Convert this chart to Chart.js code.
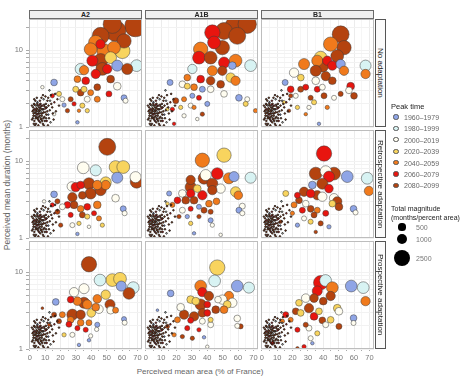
<!DOCTYPE html>
<html lang="en">
<head>
<meta charset="UTF-8">
<title>Perceived drought events by peak time</title>
<script src="https://cdn.jsdelivr.net/npm/chart.js@4.4.1/dist/chart.umd.min.js"></script>
<style>
    body { margin: 0; width: 474px; height: 378px; background: #fff; position: relative; overflow: hidden;
           font-family: "Liberation Sans", Arial, sans-serif; }
    canvas { position: absolute; }
    .stripTop { position: absolute; top: 10px; height: 9px; box-sizing: border-box; border: 1px solid #6a6a6a;
                background: #efefef; font-size: 7px; font-weight: bold; color: #222; text-align: center; line-height: 7px; }
    .stripRight { position: absolute; left: 375px; width: 11px; box-sizing: border-box; border: 1px solid #555;
                  background: #fbfbfb; font-size: 8px; color: #1a1a1a; writing-mode: vertical-rl;
                  display: flex; align-items: center; justify-content: center; white-space: nowrap; }
    .axisTitle { position: absolute; font-size: 8.5px; color: #666; white-space: nowrap; }
    .leg { position: absolute; white-space: nowrap; }
    .dot { position: absolute; border-radius: 50%; box-sizing: border-box; }
</style>
</head>
<body>
<div class="axisTitle" style="left:7px; top:185px; transform: translate(-50%, -50%) rotate(-90deg);">Perceived mean duration (months)</div>
<div class="axisTitle" style="left:200px; top:371px; transform: translate(-50%, -50%); font-size:8px;">Perceived mean area (% of France)</div>

<script>
const scenarios = ['A2', 'A1B', 'B1'];
const adaptations = ['No adaptation', 'Retrospective adaptation', 'Prospective adaptation'];
const peakPeriods = ['1960–1979', '1980–1999', '2000–2019', '2020–2039', '2040–2059', '2060–2079', '2080–2099'];
const peakColors = ['#8fa5e6', '#d8f3f3', '#fffdf0', '#f8d45e', '#f07a1c', '#e8150f', '#b4430f'];
const xTicks = [0, 10, 20, 30, 40, 50, 60, 70];
const yTicks = [1, 10];
const magnitudeBreaks = [500, 1000, 2500];

// [area %, duration months, total magnitude, peak period index]
const a2None = [
    [68.8,20.7,4600,6],[55.8,17.8,4200,6],[53.7,21.8,3300,6],[46.1,15.4,2800,6],[61.3,13.2,2000,6],
    [42.9,12.6,2000,4],[48.3,9.8,2000,4],[39.6,10.3,1600,4],[60.2,9.8,2300,3],[54.8,10.8,1600,4],
    [52.6,8.0,1350,3],[40.7,7.3,1200,5],[46.1,7.3,2000,6],[47.2,5.7,1600,6],[56.9,6.3,1200,0],
    [63.4,5.7,1200,6],[69.5,6.3,1350,1],[33.1,5.7,1200,1],[35.3,5.5,850,4],[50.4,5.7,850,5],
    [42.9,4.9,850,5],[36.4,4.0,580,5],[31.0,4.2,440,4],[52.6,4.2,580,6],[56.9,3.4,580,2],
    [15.8,3.8,440,0],[43.9,3.3,440,6],[29.9,3.1,350,3],[33.1,2.8,440,6],[51.5,2.7,350,5],
    [43.9,2.3,350,4],[61.3,2.4,350,0],[62.3,2.2,250,2],[37.4,2.3,350,2],[26.6,2.3,250,6],
    [21.2,2.3,250,2],[14.7,2.55,180,5],[19.0,2.7,250,3],[22.3,1.93,180,0],[28.8,2.0,180,5],
    [34.2,1.9,250,3],[37.4,1.63,180,3],[32.0,1.63,120,4],[31.0,1.15,120,0],[15.8,1.47,120,2],
    [8.2,3.3,120,2],[24.5,1.63,180,6],[39.6,2.8,350,4],[35.3,3.1,350,3],[46.0,12.0,850,5]
];
const a1bNone = [
    [58.4,20.7,4200,6],[66.0,21.8,3300,6],[50.9,17.8,2800,6],[59.5,15.4,2800,6],[43.3,17.0,2300,5],
    [35.7,10.3,2000,4],[44.4,12.6,1600,5],[49.8,10.8,2000,6],[34.6,8.0,1600,5],[42.2,8.0,1600,6],
    [58.4,7.3,1600,4],[50.9,6.9,1200,5],[68.2,6.3,1350,1],[56.3,6.3,580,0],[43.3,5.4,1000,4],
    [49.8,5.4,850,6],[30.3,5.7,850,1],[55.2,4.4,850,3],[58.4,4.0,850,4],[35.7,4.2,580,5],
    [27.0,4.4,440,4],[42.2,4.0,720,6],[48.7,3.6,580,6],[15.8,3.8,350,0],[23.8,3.6,440,2],
    [31.4,3.3,440,4],[27.0,3.4,350,3],[36.8,3.1,350,0],[42.2,3.1,440,2],[50.9,2.7,440,2],
    [19.5,2.2,350,6],[24.9,2.3,250,4],[30.3,2.55,250,0],[34.6,2.4,250,5],[60.6,2.4,440,0],
    [66.0,2.3,250,2],[65.0,2.0,250,3],[40.0,2.0,250,0],[29.2,1.9,250,2],[22.7,1.8,180,3],
    [17.3,1.7,180,5],[24.9,1.4,180,2],[36.8,1.47,180,6],[33.5,1.27,120,2],[71.4,1.63,180,4],
    [18.4,1.1,120,5],[14.0,1.7,120,3],[31.4,1.8,180,4]
];
const b1None = [
    [51.3,16.1,2800,6],[53.5,10.8,2000,6],[44.8,12.0,2000,4],[38.3,8.0,1600,3],[36.1,7.3,1200,4],
    [49.1,8.4,1600,6],[42.6,7.3,850,5],[27.5,6.6,1200,4],[39.4,6.3,1600,6],[45.9,6.3,850,5],
    [51.3,6.6,850,0],[53.5,5.4,850,4],[67.5,6.3,1200,1],[67.5,4.9,850,4],[21.0,5.1,850,2],
    [35.1,5.4,1200,6],[41.6,4.6,850,6],[25.4,4.4,440,3],[35.1,4.0,580,2],[45.9,4.0,580,6],
    [15.2,3.8,350,0],[18.8,3.1,440,5],[25.3,3.1,350,6],[28.6,3.3,350,5],[36.1,3.1,350,5],
    [39.4,3.3,350,2],[57.8,3.4,580,5],[56.7,3.0,440,2],[60.0,2.55,440,6],[22.1,2.55,250,2],
    [31.8,2.4,250,6],[40.5,2.55,350,6],[47.0,2.4,250,2],[51.3,2.7,250,6],[34.0,2.1,250,3],
    [30.7,1.8,180,2],[23.2,1.8,180,3],[42.6,1.8,180,4],[28.6,1.47,120,4],[37.2,1.1,120,0],
    [17.7,1.63,120,6],[14.5,2.1,120,3],[18.8,2.55,180,6]
];
const a2Retro = [
    [50.4,15.4,2800,6],[55.8,8.4,1600,3],[60.8,8.4,1600,3],[34.8,8.2,1350,2],[42.9,7.6,1200,1],
    [56.9,6.1,1200,0],[68.8,6.2,1200,2],[69.5,5.4,1600,6],[38.5,5.1,1350,6],[49.4,5.3,1200,3],
    [49.4,4.9,850,4],[27.3,4.7,850,2],[29.9,4.6,850,5],[43.9,4.9,850,4],[39.6,3.8,1200,6],
    [46.1,4.2,1200,6],[34.2,3.6,580,6],[27.7,3.4,850,6],[15.8,3.7,440,0],[18.0,3.0,250,6],
    [24.5,2.7,440,5],[28.8,2.7,580,6],[33.1,2.4,440,4],[37.4,2.55,440,5],[43.9,2.7,580,4],
    [55.8,3.3,580,2],[60.8,2.4,350,0],[61.7,2.1,250,2],[21.2,2.55,350,2],[14.7,2.7,180,5],
    [18.0,2.2,250,6],[26.6,2.0,250,5],[34.2,2.0,350,6],[41.8,2.1,250,5],[45.0,1.8,250,4],
    [27.7,1.47,250,2],[32.0,1.55,180,3],[20.1,1.47,180,6],[47.2,1.47,180,3],[31.0,1.13,120,0],
    [38.5,1.4,120,2],[9.3,3.0,120,2],[37.4,1.9,250,3],[33.1,4.9,580,5]
];
const a1bRetro = [
    [50.9,12.0,2000,3],[36.8,10.3,2000,4],[46.5,6.9,1350,5],[39.0,6.6,1200,2],[57.4,6.3,1000,0],
    [68.2,6.1,1200,1],[54.1,6.0,1200,4],[37.9,6.0,1350,6],[43.3,5.1,1200,6],[29.2,5.7,850,6],
    [29.2,4.6,1200,6],[48.7,4.4,850,2],[43.3,4.2,850,6],[33.5,4.4,580,3],[58.4,4.0,1000,3],
    [60.2,3.6,720,4],[23.8,3.8,580,2],[29.2,3.8,720,5],[36.8,3.6,850,5],[20.6,3.1,440,5],
    [26.0,3.1,580,6],[31.4,3.1,580,6],[41.1,2.8,440,4],[46.0,3.0,440,4],[15.2,3.8,250,0],
    [62.8,2.6,350,2],[60.6,2.3,350,0],[62.8,2.1,250,2],[17.3,2.7,250,4],[23.8,2.3,350,2],
    [29.2,2.4,250,5],[34.6,2.55,250,0],[37.9,2.3,350,6],[42.2,2.2,250,6],[21.6,1.9,180,6],
    [29.2,1.55,180,3],[27.0,1.9,180,0],[34.6,1.9,180,6],[42.2,1.7,250,0],[43.3,1.47,180,2],
    [48.7,1.1,120,2],[31.4,1.15,120,0],[14.1,2.8,120,3]
];
const b1Retro = [
    [40.5,12.6,2300,5],[41.6,7.4,1200,2],[35.1,6.9,1600,6],[47.0,6.9,1600,6],[43.7,6.3,1200,5],
    [55.6,6.3,1350,0],[68.6,6.0,1350,1],[69.7,4.1,850,4],[39.4,5.1,1200,6],[32.9,4.9,580,0],
    [43.7,4.4,720,5],[27.5,4.0,850,6],[31.8,3.8,720,5],[36.1,3.6,850,6],[39.4,3.45,850,2],
    [47.0,3.3,850,2],[49.1,3.0,850,6],[50.2,2.55,580,6],[45.9,2.8,440,3],[59.7,2.4,440,0],
    [61.0,2.15,250,2],[15.6,3.8,350,3],[23.2,3.6,350,5],[24.2,3.1,440,6],[21.0,2.7,350,4],
    [28.6,2.8,440,2],[26.4,2.3,350,5],[31.8,2.4,440,6],[36.1,2.3,350,4],[41.6,2.1,350,5],
    [34.0,2.0,350,6],[27.5,1.8,250,2],[31.8,1.63,250,3],[38.3,1.55,250,6],[23.2,1.47,180,0],
    [43.7,1.4,180,0],[35.1,1.2,120,6],[19.9,2.1,180,4],[12.3,1.63,120,6]
];
const a2Pro = [
    [38.5,12.7,2300,6],[45.7,7.9,1350,1],[53.7,7.9,1600,3],[58.7,8.2,1600,3],[59.5,6.6,1000,0],
    [67.3,6.3,1350,1],[64.5,5.3,1350,6],[28.8,5.5,850,2],[35.3,6.1,1000,2],[49.4,5.1,850,3],
    [43.9,4.5,720,4],[35.3,4.0,1200,6],[31.0,4.2,720,4],[26.6,4.4,440,5],[37.4,3.8,850,4],
    [40.0,2.95,720,3],[45.0,3.3,720,2],[52.2,3.8,1000,6],[52.6,3.2,580,2],[55.8,3.2,350,4],
    [42.9,3.5,580,4],[16.9,4.1,440,0],[27.7,2.8,1200,6],[33.1,2.8,850,6],[26.6,2.4,440,4],
    [21.2,2.8,350,4],[15.8,2.8,250,6],[19.0,2.3,250,6],[25.5,2.1,350,5],[33.1,2.2,440,4],
    [38.5,2.2,350,4],[31.0,1.87,250,5],[36.4,1.78,250,5],[43.9,2.07,250,0],[43.5,1.8,180,2],
    [61.3,2.45,250,0],[61.7,2.2,250,2],[27.7,1.53,250,2],[22.3,1.53,180,3],[39.6,1.48,180,2],
    [38.5,1.3,120,0],[32.0,1.13,120,0],[12.6,2.07,120,6],[8.2,3.4,70,6]
];
const a1bPro = [
    [46.5,11.5,2300,3],[44.8,7.7,1350,1],[35.7,6.6,1350,4],[36.8,5.5,850,5],[59.5,6.6,1350,0],
    [67.1,6.3,1200,1],[41.1,4.9,850,6],[54.1,4.9,850,4],[49.8,4.4,850,2],[56.3,4.0,850,2],
    [53.0,3.8,580,3],[47.0,4.4,440,2],[35.7,3.8,1200,6],[29.2,4.4,580,3],[32.5,4.2,580,3],
    [40.0,3.8,440,5],[45.5,3.25,580,6],[50.9,3.25,580,4],[22.7,3.5,580,2],[16.2,5.3,440,0],
    [24.9,2.8,850,6],[31.4,2.66,850,6],[36.8,2.95,720,6],[40.0,2.95,440,5],[29.2,2.36,350,5],
    [20.6,2.4,350,4],[36.8,2.3,350,2],[42.2,2.07,350,2],[59.5,2.5,440,2],[61.7,1.97,250,6],
    [59.5,2.0,250,2],[42.2,2.4,250,3],[27.0,1.87,250,5],[34.6,1.78,180,5],[14.1,1.97,180,6],
    [18.4,1.53,180,4],[23.8,1.45,180,6],[30.3,1.38,180,6],[37.9,1.42,120,0],[40.0,1.07,120,2],
    [7.6,3.2,70,0]
];
const b1Pro = [
    [38.3,7.3,2000,5],[41.5,7.8,1350,1],[45.9,6.3,1350,4],[36.1,5.7,1000,5],[58.2,6.6,1350,0],
    [66.0,6.3,1350,1],[67.5,4.2,850,4],[44.8,4.9,850,6],[28.6,4.6,720,2],[34.0,4.6,720,6],
    [40.0,4.2,580,6],[49.1,3.4,580,3],[50.2,3.1,580,2],[24.2,4.0,440,3],[30.7,3.4,850,6],
    [22.1,3.1,440,6],[25.3,2.95,440,3],[37.2,3.1,440,3],[44.8,2.4,440,3],[34.0,2.66,580,5],
    [39.4,2.36,440,6],[41.6,2.07,350,2],[50.2,1.97,350,6],[59.7,2.53,440,0],[59.7,2.18,250,2],
    [15.6,2.8,350,5],[18.8,2.4,250,4],[23.2,1.78,250,5],[30.7,1.87,350,2],[28.6,2.07,250,6],
    [31.8,1.38,250,2],[36.1,1.6,250,3],[27.5,1.07,180,5],[23.2,1.02,120,6],[32.9,1.19,120,0],
    [13.4,2.3,180,4],[6.9,1.19,120,5]
];
// the cloud of very small events in the lower left corner: [area, duration, peak period index]
const smallEvents = [
    [2,1.3,6],[2.5,1.5,6],[3,1.2,6],[3,1.7,5],[3.5,1.4,6],[4,1.9,2],[4,1.1,6],[4.5,1.6,6],[5,1.3,6],[5,2.1,0],
    [5.5,1.5,6],[6,1.8,6],[6,1.2,5],[6.5,1.4,6],[7,2.0,6],[7,1.6,2],[7.5,1.25,6],[8,1.5,6],[8,1.9,5],[8.5,1.1,6],
    [9,1.7,6],[9,2.3,1],[9.5,1.35,6],[10,1.55,6],[10.5,2.0,6],[11,1.2,5],[11,1.8,6],[12,1.45,0],[12,2.4,6],[13,1.65,6],
    [13.5,1.15,2],[14,2.0,6],[2.2,1.8,6],[2.8,2.0,6],[3.3,1.55,6],[3.8,1.3,6],[4.3,1.75,6],[4.8,1.45,5],[5.3,1.9,6],[5.8,1.35,6],
    [6.3,1.65,6],[6.8,1.15,6],[7.3,1.85,6],[7.8,1.4,6],[8.3,1.7,2],[8.8,1.3,6],[9.3,1.95,6],[9.8,1.2,6],[10.3,1.75,5],[10.8,1.45,6],
    [3.6,2.2,6],[4.6,2.4,6],[6.6,2.2,5],[8.6,2.6,6],[11.5,2.2,6],[1.8,1.6,6],[2.6,1.1,6],[5.6,1.05,6],[12.5,1.3,6],[15,1.5,6],
    [3.1,1.95,6],[4.1,1.5,6],[5.1,1.7,6],[6.1,1.5,6],[7.1,1.3,6],[2.4,1.4,6],[3.9,1.65,6],[5.4,1.25,6],[6.9,1.75,6],[8.1,1.2,6],
    [1.5,1.25,6],[2.3,1.65,6],[3.4,1.05,6],[4.4,1.35,6],[4.9,2.0,6],[5.9,1.6,6],[6.4,1.95,5],[7.4,1.5,6],[7.9,1.7,6],[8.9,1.55,6],
    [9.6,1.85,6],[10.6,1.3,6],[11.4,1.6,6],[12.2,1.9,6],[13.2,2.2,2],[14.6,1.8,6],[16,2.1,5],[17,1.6,6],[16.5,2.7,6],[18,2.3,6],
    [19,1.9,6],[13.8,2.6,6],[10.2,2.5,6],[7.6,2.4,6],[11.8,1.05,6],[9.1,1.05,6],[1.4,1.9,6],[2.9,2.3,6],[15.5,1.25,6],[12.8,3.0,1]
];
const smallMagnitude = 10;

const panels = [
    [a2None, a1bNone, b1None],
    [a2Retro, a1bRetro, b1Retro],
    [a2Pro, a1bPro, b1Pro]
];

// page layout
const colLeft = [29, 145, 261], colW = 113;
const rowTop = [19, 130, 241], rowH = 108;
const yAxisW = 15, xAxisH = 16, pad = 6;
Chart.defaults.font.family = '"Liberation Sans", Arial, sans-serif';

// bubble area proportional to magnitude
const radius = m => Math.max(0.8, 0.16 * Math.sqrt(m));

const xGrid = [];
for (let v = 0; v <= 70; v += 5) xGrid.push(v);
const yGrid = [1, 2, 3, 4, 5, 6, 7, 8, 9, 10, 20];

const panelFrame = {
    id: 'panelFrame',
    afterDraw(chart) {
        const a = chart.chartArea, ctx = chart.ctx;
        ctx.save();
        ctx.strokeStyle = '#bdbdbd';
        ctx.lineWidth = 1;
        ctx.strokeRect(a.left + 0.5, a.top + 0.5, a.right - a.left - 1, a.bottom - a.top - 1);
        ctx.restore();
    }
};

function makePanel(row, col) {
    const isLeft = col === 0, isBottom = row === 2;
    const cv = document.createElement('canvas');
    cv.width = colW + (isLeft ? yAxisW : 0) + 2 * pad;
    cv.height = rowH + (isBottom ? xAxisH : 0) + 2 * pad;
    cv.style.left = (colLeft[col] - (isLeft ? yAxisW : 0) - pad) + 'px';
    cv.style.top = (rowTop[row] - pad) + 'px';
    document.body.appendChild(cv);

    const pts = smallEvents.map(p => ({ x: p[0], y: p[1], r: radius(smallMagnitude), c: p[2], small: true }))
        .concat(panels[row][col].map(p => ({ x: p[0], y: p[1], r: radius(p[2]), c: p[3] })));
    pts.sort((a, b) => b.r - a.r);

    new Chart(cv, {
        type: 'bubble',
        data: {
            datasets: [{
                data: pts,
                backgroundColor: pts.map(p => peakColors[p.c]),
                borderColor: pts.map(p => p.small ? '#151515' : '#3c3c3c'),
                borderWidth: pts.map(p => p.small ? 0.9 : 0.5),
                clip: 0
            }]
        },
        options: {
            responsive: false,
            animation: false,
            events: [],
            layout: { padding: pad, autoPadding: false },
            plugins: { legend: { display: false }, tooltip: { enabled: false } },
            scales: {
                x: {
                    type: 'linear', min: -0.5, max: 73,
                    afterBuildTicks: s => { s.ticks = xGrid.map(v => ({ value: v })); },
                    afterFit: s => {
                        s.height = isBottom ? xAxisH : 0;
                        s.paddingLeft = s.paddingRight = 0;
                    },
                    ticks: {
                        display: isBottom, autoSkip: false, maxRotation: 0, padding: 2,
                        color: '#7a7a7a', font: { size: 7.5 },
                        callback: v => xTicks.includes(v) ? String(v) : ''
                    },
                    grid: {
                        color: c => (c.tick && c.tick.value % 10 === 0) ? '#ececec' : '#f6f6f6',
                        drawTicks: isBottom, tickLength: 2, tickColor: '#aaa'
                    },
                    border: { display: false }
                },
                y: {
                    type: 'logarithmic', min: 1, max: 25.5,
                    afterBuildTicks: s => { s.ticks = yGrid.map(v => ({ value: v })); },
                    afterFit: s => {
                        s.width = isLeft ? yAxisW : 0;
                        s.paddingTop = s.paddingBottom = 0;
                    },
                    ticks: {
                        display: isLeft, autoSkip: false, padding: 3,
                        color: '#7a7a7a', font: { size: 7.5 },
                        callback: v => yTicks.includes(v) ? String(v) : ''
                    },
                    grid: { color: '#f2f2f2', drawTicks: isLeft, tickLength: 3, tickColor: '#aaa' },
                    border: { display: false }
                }
            }
        },
        plugins: [panelFrame]
    });
}

for (let r = 0; r < 3; r++)
    for (let c = 0; c < 3; c++) makePanel(r, c);

// facet strips
scenarios.forEach((s, i) => {
    const d = document.createElement('div');
    d.className = 'stripTop';
    d.style.left = colLeft[i] + 'px';
    d.style.width = colW + 'px';
    d.textContent = s;
    document.body.appendChild(d);
});
adaptations.forEach((s, i) => {
    const d = document.createElement('div');
    d.className = 'stripRight';
    d.style.top = rowTop[i] + 'px';
    d.style.height = rowH + 'px';
    d.textContent = s;
    document.body.appendChild(d);
});

// legends
function addText(txt, left, top, size, color) {
    const d = document.createElement('div');
    d.className = 'leg';
    d.style.left = left + 'px';
    d.style.top = top + 'px';
    d.style.fontSize = size + 'px';
    d.style.color = color;
    d.style.transform = 'translateY(-50%)';
    d.textContent = txt;
    document.body.appendChild(d);
}
function addDot(cx, cy, r, fill, stroke) {
    const d = document.createElement('div');
    d.className = 'dot';
    d.style.left = (cx - r) + 'px';
    d.style.top = (cy - r) + 'px';
    d.style.width = d.style.height = (2 * r) + 'px';
    d.style.background = fill;
    if (stroke) d.style.border = '0.5px solid ' + stroke;
    document.body.appendChild(d);
}

addText('Peak time', 391, 106, 7.5, '#222');
peakPeriods.forEach((p, i) => {
    const y = 117 + i * 11.4;
    addDot(396, y, 2.6, peakColors[i], '#555');
    addText(p, 404, y, 7, '#666');
});

addText('Total magnitude', 391, 208, 7, '#222');
addText('(months/percent area)', 391, 217, 7, '#222');
const sizeRows = [227, 239, 258];
magnitudeBreaks.forEach((m, i) => {
    addDot(402, sizeRows[i], radius(m), '#000', null);
    addText(String(m), 416, sizeRows[i], 7, '#777');
});
</script>
</body>
</html>
